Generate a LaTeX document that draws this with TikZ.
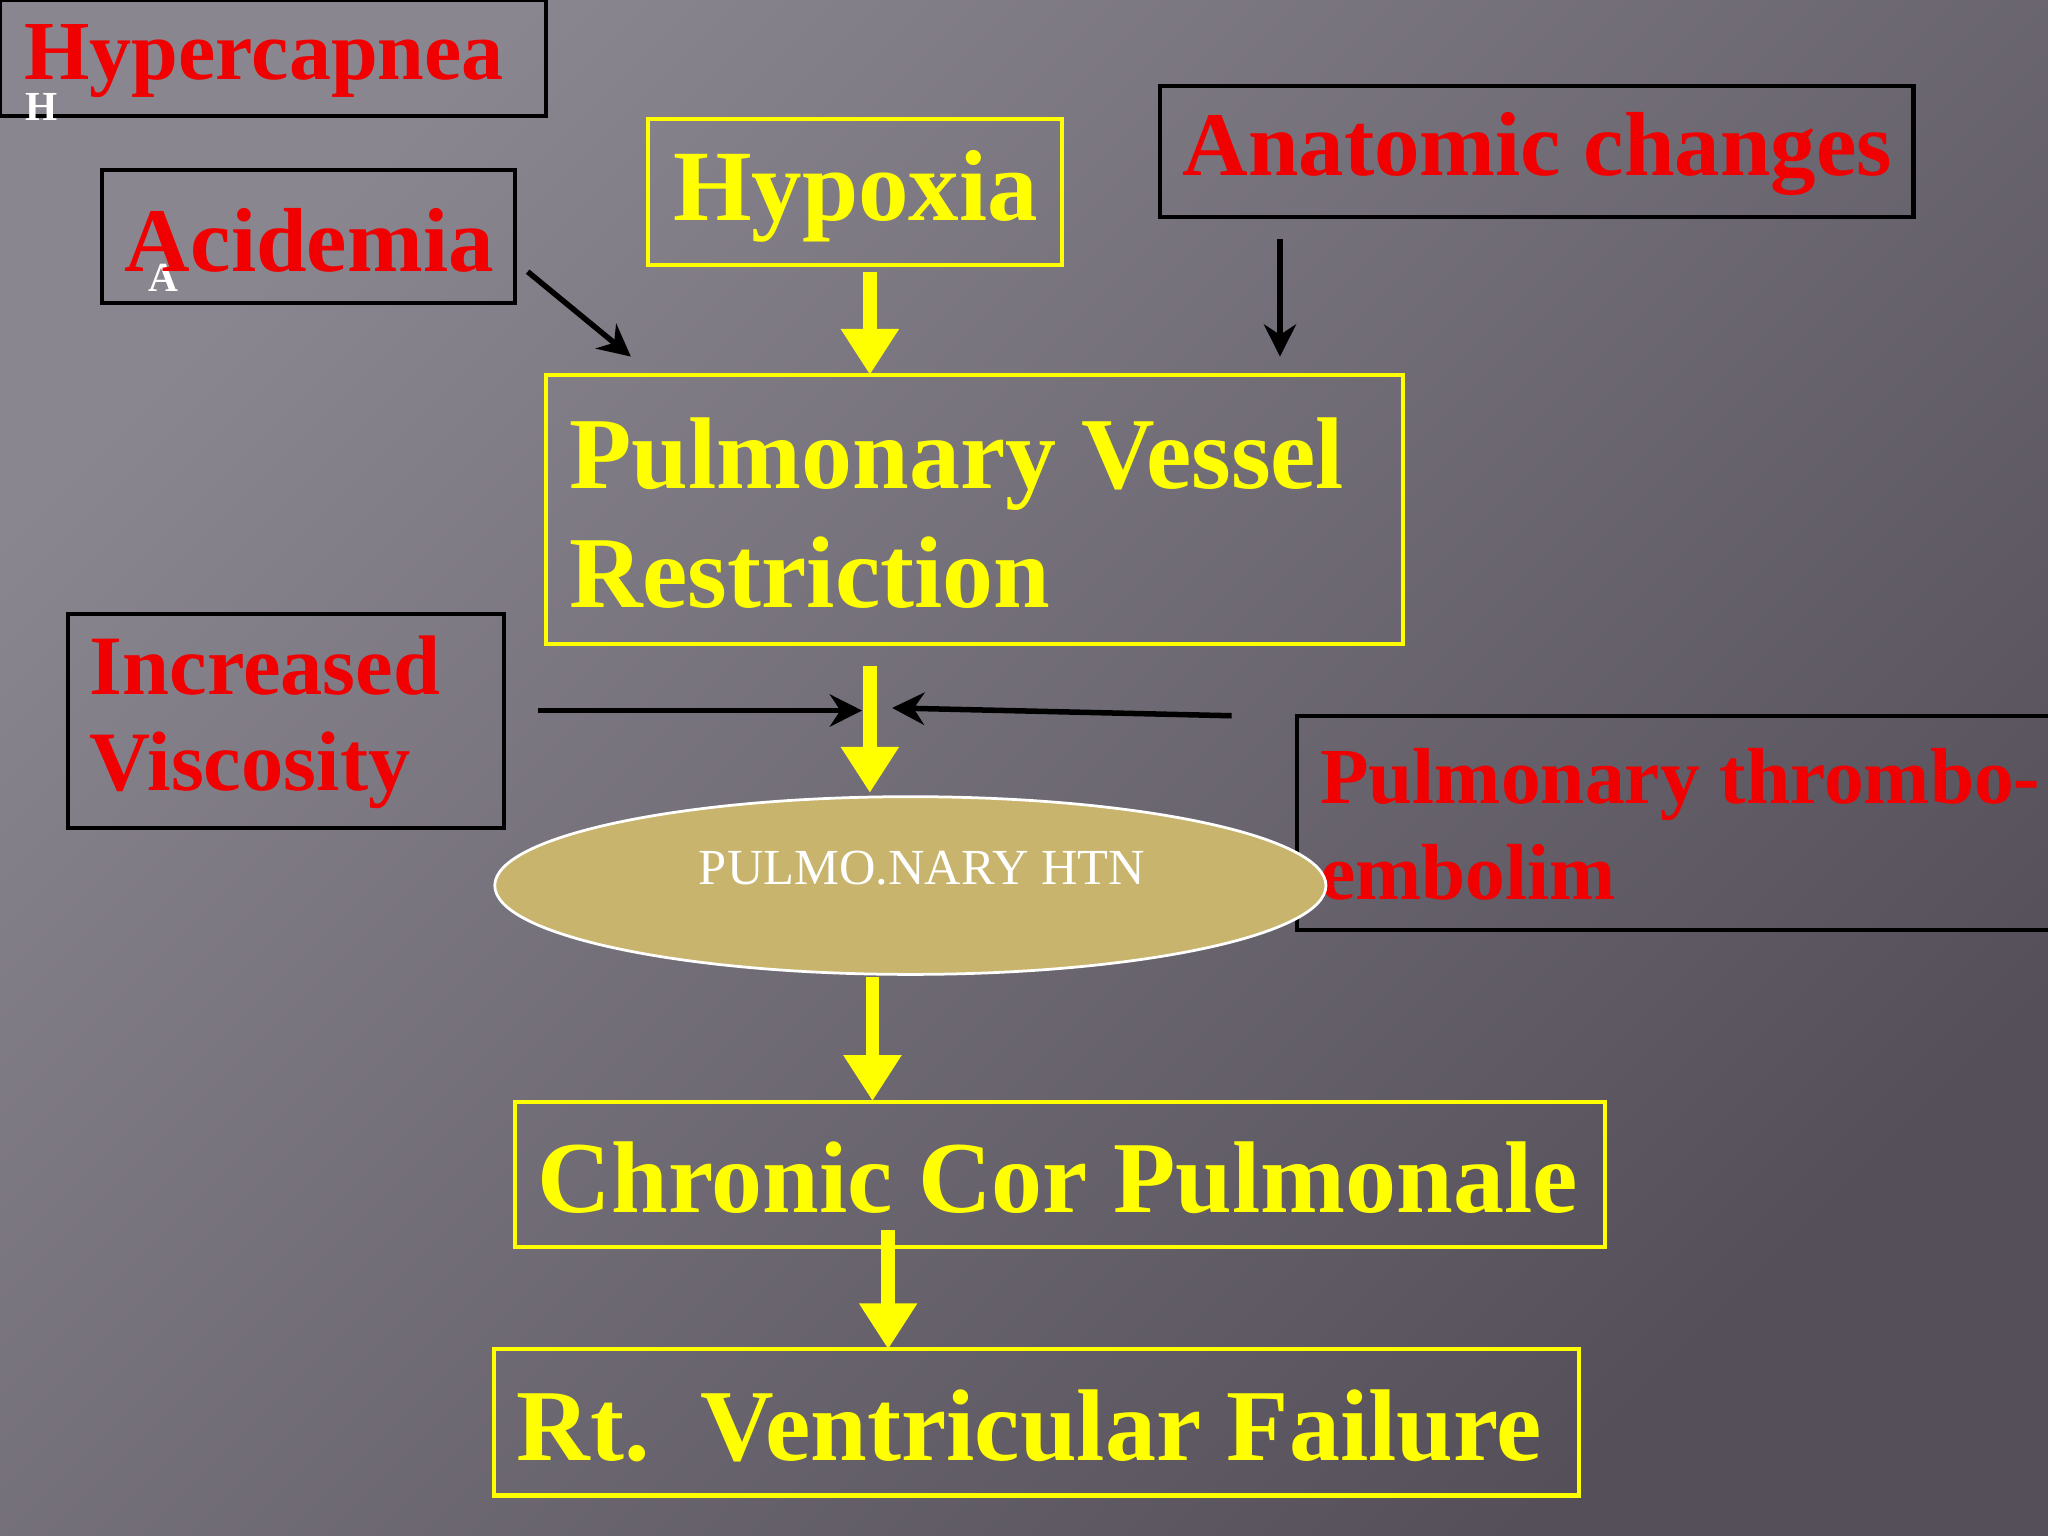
\documentclass[tikz,border=0pt]{standalone}
\usepackage{fontspec}
\setmainfont{Liberation Serif}
\usetikzlibrary{positioning,arrows.meta,shapes.geometric}
\definecolor{bgdark}{HTML}{544F58}
\definecolor{bgmid}{HTML}{A9A5AE}
\definecolor{bgtop}{HTML}{8A8690}
\definecolor{htngold}{HTML}{C8B46C}
\definecolor{txtred}{HTML}{F00000}
\definecolor{txtyel}{HTML}{FFFF00}
\tikzset{
  redtext/.style={inner sep=0pt, text=txtred, font=\bfseries\fontsize{#1}{21}\selectfont},
  yeltext/.style={inner sep=0pt, text=txtyel, font=\bfseries\fontsize{#1}{26}\selectfont},
  markup/.style={inner sep=0pt, text=white, font=\bfseries\fontsize{9}{10}\selectfont},
  causebox/.style={draw=black, line width=0.9pt},
  stagebox/.style={draw=txtyel, line width=0.9pt},
  yarrow/.style={draw=txtyel, line width=3pt, -{Triangle[width=12pt,length=10pt]}},
  barrow/.style={draw=black, line width=1.2pt, -{Stealth[width=7pt,length=7pt]}}
}
\begin{document}
\begin{tikzpicture}[x=0.01cm, y=-0.01cm]
  \useasboundingbox (0,0) rectangle (1568,1176);
  % background
  \shade[shading=axis, top color=bgtop, middle color=bgmid, bottom color=bgdark, shading angle=45]
    (0,0) rectangle (1568,1176);

  % causes
  \draw[causebox] (0,0) rectangle (418,89);
  \node[markup] (hmark) at (32,82) {H};
  \node[anchor=west, redtext=18.3] (hyper) at (18,47) {Hypercapnea};
  \draw[causebox] (78,130) rectangle (394,232);
  \node[markup] (amark) at (125,213) {A};
  \node[anchor=west, redtext=19.8] (acid) at (95,184) {Acidemia};
  \draw[causebox] (888,66) rectangle (1465,166);
  \node[redtext=19.8] (anat) at (1177,118) {Anatomic changes};
  \draw[causebox] (52,470) rectangle (386,634);
  \node[anchor=west, align=left, redtext=18.4] (visc) at (68,553) {Increased\\Viscosity};
  \draw[causebox] (993,548) rectangle (1580,712);
  \node[anchor=west, align=left, redtext=17.3] (embo) at (1010,631) {Pulmonary thrombo-\\embolim};

  % stages
  \draw[stagebox] (496,91) rectangle (813,203);
  \node[yeltext=22] (hypox) at (655,150) {Hypoxia};
  \draw[stagebox] (418,287) rectangle (1074,493);
  \node[anchor=west, align=left, yeltext=22.2] (vessel) at (435,393) {Pulmonary Vessel\\Restriction};
  \node[ellipse, draw=white, line width=0.6pt, fill=htngold, inner sep=0pt,
        minimum width=6.36cm, minimum height=1.36cm] (htn) at (697,678) {};
  \node[text=white, font=\fontsize{11}{13}\selectfont] (htntext) at (706,665) {PULMO.NARY HTN};
  \draw[stagebox] (394,844) rectangle (1229,955);
  \node[yeltext=22.2] (cor) at (810,902) {Chronic Cor Pulmonale};
  \draw[stagebox] (378,1033) rectangle (1209,1145);
  \node[anchor=west, yeltext=22.2] (rvf) at (395,1092) {Rt.\ \ Ventricular Failure};

  % connectors
  \coordinate (hypoxS) at (666,208);
  \coordinate (vesselN) at (666,287);
  \coordinate (vesselS) at (666,510);
  \coordinate (htnN) at (666,607);
  \coordinate (htnS) at (668,748);
  \coordinate (corN) at (668,843);
  \coordinate (corS) at (680,942);
  \coordinate (rvfN) at (680,1033);
  \draw[yarrow] (hypoxS) -- (vesselN);
  \draw[yarrow] (vesselS) -- (htnN);
  \draw[yarrow] (htnS) -- (corN);
  \draw[yarrow] (corS) -- (rvfN);

  \coordinate (acidE) at (404,208);
  \coordinate (acidT) at (483,273);
  \coordinate (anatS) at (980,183);
  \coordinate (anatT) at (980,273);
  \coordinate (viscE) at (412,544);
  \coordinate (viscT) at (660,544);
  \coordinate (emboW) at (943,548);
  \coordinate (emboT) at (683,542);
  \draw[barrow] (acidE) -- (acidT);
  \draw[barrow] (anatS) -- (anatT);
  \draw[barrow] (viscE) -- (viscT);
  \draw[barrow] (emboW) -- (emboT);
\end{tikzpicture}
\end{document}
